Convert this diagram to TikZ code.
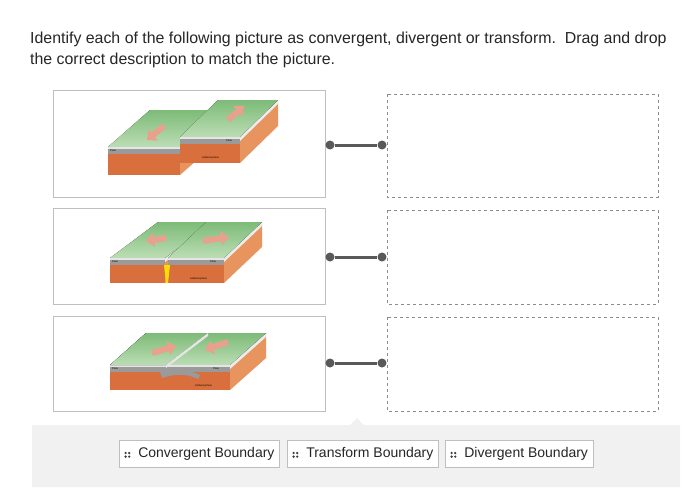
\documentclass[tikz,border=0pt]{standalone}
\usepackage{fontspec}
\setmainfont{Liberation Sans}
\usetikzlibrary{arrows.meta}
\definecolor{grn}{HTML}{9FCF95}
\definecolor{grnd}{HTML}{7DBB78}
\definecolor{org}{HTML}{D86F3C}
\definecolor{orgl}{HTML}{E8945E}
\definecolor{plt}{HTML}{9A9A9A}
\definecolor{pnk}{HTML}{E9A08C}
\definecolor{panel}{HTML}{F1F1F1}
\newcommand{\myslab}[7]{% x1 x2 y bot dx dy platecolor
  \fill[orgl] (#2,#3) -- (#2+#5,#3-#6) -- (#2+#5,#4-#6) -- (#2,#4) -- cycle;
  \fill[white!85!gray] (#2,#3) -- (#2+#5,#3-#6) -- (#2+#5,#3-#6+4) -- (#2,#3+4) -- cycle;
  \fill[top color=grnd,bottom color=grn!70!white] (#1,#3) -- (#2,#3) -- (#2+#5,#3-#6) -- (#1+#5,#3-#6) -- cycle;
  \fill[white!80!gray] (#1,#3) rectangle (#2,#3+2);
  \fill[#7] (#1,#3+2) rectangle (#2,#3+7);
  \fill[org] (#1,#3+7) rectangle (#2,#4);}
\newcommand{\grip}{\tikz[baseline=-1pt,x=1pt,y=1pt]{\foreach \i in {0,3.6}\foreach \j in {0,3.6}\fill[black!75] (\i,\j) circle (1.3);}}
\tikzset{
  pic box/.style={draw=black!25,line width=0.8pt},
  drop/.style={draw=black!45,dash pattern=on 3pt off 3pt,line width=0.6pt},
  conn/.style={draw=black!65,line width=3pt},
  dot/.style={circle,fill=black!65,inner sep=0pt,minimum size=9pt},
  arr/.style={pnk,line width=6pt,-{Triangle[length=8pt,width=14pt]}},
  tiny/.style={font=\fontsize{2.5}{3}\selectfont,inner sep=0pt,anchor=west},
  btn/.style={draw=black!25,fill=white,line width=0.6pt,minimum height=27pt,font=\fontsize{14}{16}\selectfont,text=black!85,inner xsep=5pt},
  title/.style={anchor=base west,inner sep=0pt,font=\fontsize{15.9}{19}\selectfont,text=black!85},
}
\begin{document}
\begin{tikzpicture}[x=1pt,y=-1pt]
\useasboundingbox (0,0) rectangle (700,487);
\fill[white] (0,0) rectangle (700,487);
\node[title] (t1) at (30,44) {Identify each of the following picture as convergent, divergent or transform.\ \ Drag and drop};
\node[title] (t2) at (30,64) {the correct description to match the picture.};
% panel
\fill[panel] (32,425) -- (350,425) -- (357,418) -- (364,425) -- (680,425) -- (680,487) -- (32,487) -- cycle;
% picture boxes
\draw[pic box] (53,90) rectangle (325,197);
\draw[pic box] (53,208) rectangle (325,304);
\draw[pic box] (53,316) rectangle (325,411);
% drop boxes
\draw[drop] (387,94) rectangle (658,197);
\draw[drop] (387,210) rectangle (658,304);
\draw[drop] (387,317) rectangle (658,411);
% connectors
\foreach \n/\y in {1/145,2/257,3/363}{
  \node[dot] (a\n) at (330,\y) {};
  \node[dot] (b\n) at (382,\y) {};
  \draw[conn] (a\n) -- (b\n);
}
% picture 1
\myslab{108}{180}{147}{175}{42}{37}{plt}
\myslab{180}{240}{137}{163}{38}{37}{plt}
\draw[arr] (164,126) -- (147,140);
\draw[arr] (228,120) -- (244,106);
\node[tiny] (p1a) at (110,151) {Plate};
\node[tiny] (p1b) at (226,141) {Plate};
\node[tiny] (p1c) at (202,158) {Asthenosphere};
% picture 2
\myslab{110}{165}{258}{283}{48}{36}{plt}
\myslab{168}{224}{258}{283}{38}{36}{plt}
\fill[yellow!80!orange] (164,265) -- (170,265) -- (168,283) -- (166,283) -- cycle;
\draw[arr] (166,238) -- (146,241);
\draw[arr] (203,241) -- (229,237);
\node[tiny] (p2a) at (112,262) {Plate};
\node[tiny] (p2b) at (210,262) {Plate};
\node[tiny] (p2c) at (190,279) {Asthenosphere};
% picture 3
\myslab{110}{230}{365}{390}{36}{32}{plt}
\fill[top color=grnd,bottom color=grn!70!white] (110,365) -- (166,365) -- (208,333) -- (146,333) -- cycle;
\fill[white!80!gray] (166,365) -- (208,333) -- (208,336) -- (166,368) -- cycle;
\fill[plt] (160,372) .. controls (175,368) and (185,368) .. (200,375) -- (198,379) .. controls (185,373) and (175,374) .. (162,378) -- cycle;
\draw[arr] (152,353) -- (176,346);
\draw[arr] (228,342) -- (205,350);
\node[tiny] (p3a) at (112,369) {Plate};
\node[tiny] (p3b) at (213,369) {Plate};
\node[tiny] (p3c) at (195,386) {Asthenosphere};
% buttons
\node[btn,anchor=west] (c1) at (119,454) {\grip\ \ Convergent Boundary};
\node[btn,anchor=west] (c2) at (287,454) {\grip\ \ Transform Boundary};
\node[btn,anchor=west] (c3) at (445,454) {\grip\ \ Divergent Boundary};
\end{tikzpicture}
\end{document}
